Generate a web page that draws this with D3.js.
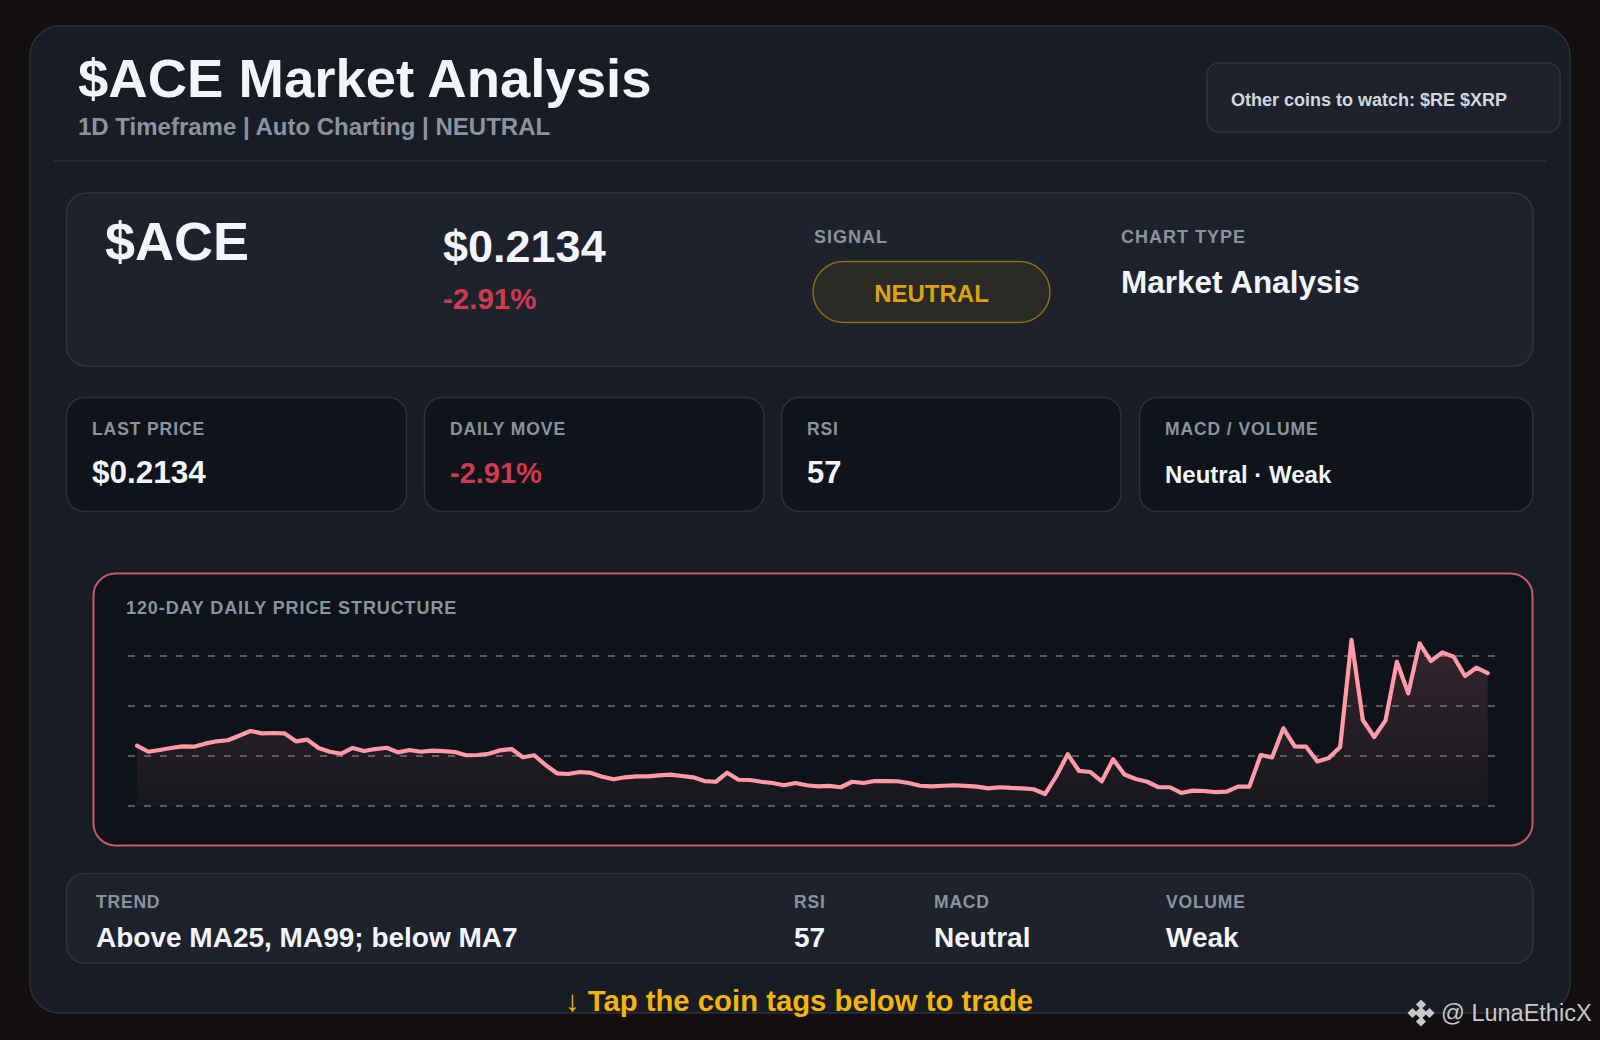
<!DOCTYPE html>
<html>
<head>
<meta charset="utf-8">
<title>$ACE Market Analysis</title>
<style>
html, body { margin: 0; padding: 0; background: #130e0f; }
svg { display: block; }
text { font-family: "Liberation Sans", Arial, Helvetica, sans-serif; }
</style>
</head>
<body>
<svg id="chart" width="1600" height="1040"></svg>

<script src="https://cdn.jsdelivr.net/npm/d3@7/dist/d3.min.js"></script>
<script>
// 120 daily closes
var prices = [
  0.1515, 0.1463, 0.1478, 0.1495, 0.1509, 0.1506, 0.1532, 0.1552, 0.1561, 0.1600,
  0.1640, 0.1620, 0.1623, 0.1620, 0.1552, 0.1566, 0.1495, 0.1463, 0.1446, 0.1495,
  0.1469, 0.1486, 0.1497, 0.1458, 0.1478, 0.1463, 0.1472, 0.1469, 0.1461, 0.1433,
  0.1435, 0.1446, 0.1475, 0.1486, 0.1416, 0.1433, 0.1350, 0.1279, 0.1273, 0.1290,
  0.1282, 0.1250, 0.1228, 0.1245, 0.1253, 0.1253, 0.1262, 0.1267, 0.1256, 0.1245,
  0.1213, 0.1207, 0.1284, 0.1224, 0.1222, 0.1207, 0.1196, 0.1177, 0.1196, 0.1177,
  0.1168, 0.1171, 0.1160, 0.1207, 0.1196, 0.1213, 0.1213, 0.1211, 0.1196, 0.1173,
  0.1168, 0.1173, 0.1177, 0.1171, 0.1165, 0.1151, 0.1160, 0.1154, 0.1151, 0.1143,
  0.1102, 0.1256, 0.1441, 0.1299, 0.1290, 0.1211, 0.1399, 0.1269, 0.1230, 0.1207,
  0.1160, 0.1160, 0.1111, 0.1131, 0.1128, 0.1119, 0.1122, 0.1165, 0.1165, 0.1435,
  0.1414, 0.1663, 0.1509, 0.1506, 0.1380, 0.1410, 0.1503, 0.2417, 0.1734, 0.1589,
  0.1731, 0.2231, 0.1962, 0.2388, 0.2237, 0.2310, 0.2274, 0.2109, 0.2180, 0.2134
];
var priceFloor = 0.100;
var priceCeil = 0.228;
var gridCount = 4;

var coin = "$ACE";
var lastPrice = "$0.2134";
var dailyMove = "-2.91%";
var signal = "NEUTRAL";
var chartType = "Market Analysis";
var watchList = ["$RE", "$XRP"];

var metricLabels = ["LAST PRICE", "DAILY MOVE", "RSI", "MACD / VOLUME"];
var metricValues = ["$0.2134", "-2.91%", "57", "Neutral \u00b7 Weak"];

var summaryLabels = ["TREND", "RSI", "MACD", "VOLUME"];
var summaryValues = ["Above MA25, MA99; below MA7", "57", "Neutral", "Weak"];

var WHITE = "#f3f5f8", GREY = "#8c93a0", RED = "#cf3a50", GOLD = "#d9a40f";
var svg = d3.select("#chart");

var defs = svg.append("defs");
var grad = defs.append("linearGradient")
    .attr("id", "areaFill")
    .attr("gradientUnits", "userSpaceOnUse")
    .attr("x1", 0).attr("x2", 0).attr("y1", 640).attr("y2", 806);
grad.append("stop").attr("offset", "0%").attr("stop-color", "#ff8d9c").attr("stop-opacity", 0.16);
grad.append("stop").attr("offset", "100%").attr("stop-color", "#ff8d9c").attr("stop-opacity", 0.04);

// page background
svg.append("rect").attr("width", 1600).attr("height", 1040).attr("fill", "#130e0f");

// outer card
svg.append("rect")
    .attr("x", 30).attr("y", 26).attr("width", 1540).attr("height", 987)
    .attr("rx", 30)
    .attr("fill", "#181c24").attr("stroke", "#2a303b").attr("stroke-width", 1.5);

// header
svg.append("text").attr("x", 78).attr("y", 97)
    .attr("font-size", 54.5).attr("font-weight", 700).attr("fill", WHITE)
    .text(coin + " Market Analysis");
svg.append("text").attr("x", 78).attr("y", 135)
    .attr("font-size", 24).attr("font-weight", 700).attr("fill", GREY)
    .text("1D Timeframe | Auto Charting | " + signal);

svg.append("rect")
    .attr("x", 1207).attr("y", 63).attr("width", 353).attr("height", 69).attr("rx", 12)
    .attr("fill", "#1d222c").attr("stroke", "#2d3440").attr("stroke-width", 1.5);
svg.append("text").attr("x", 1231).attr("y", 106)
    .attr("font-size", 18).attr("font-weight", 700).attr("fill", "#d3d7dd")
    .text("Other coins to watch: " + watchList.join(" "));

svg.append("line")
    .attr("x1", 54).attr("x2", 1546).attr("y1", 161).attr("y2", 161)
    .attr("stroke", "#2a303b").attr("stroke-width", 1.5);

// hero card
svg.append("rect")
    .attr("x", 66.5).attr("y", 193).attr("width", 1466.5).attr("height", 173).attr("rx", 20)
    .attr("fill", "#1d222c").attr("stroke", "#2d3440").attr("stroke-width", 1.5);
svg.append("text").attr("x", 105).attr("y", 260)
    .attr("font-size", 54).attr("font-weight", 700).attr("fill", WHITE).text(coin);
svg.append("text").attr("x", 443).attr("y", 262)
    .attr("font-size", 45).attr("font-weight", 700).attr("fill", WHITE).text(lastPrice);
svg.append("text").attr("x", 443).attr("y", 309)
    .attr("font-size", 29.5).attr("font-weight", 700).attr("fill", RED).text(dailyMove);

svg.append("text").attr("x", 814).attr("y", 243)
    .attr("font-size", 18).attr("font-weight", 700).attr("letter-spacing", 1)
    .attr("fill", GREY).text("SIGNAL");
svg.append("rect")
    .attr("x", 813).attr("y", 261.5).attr("width", 237).attr("height", 61).attr("rx", 30.5)
    .attr("fill", "#2b2a26").attr("stroke", "#8f7012").attr("stroke-width", 1.5);
svg.append("text").attr("x", 931.5).attr("y", 301.5).attr("text-anchor", "middle")
    .attr("font-size", 24).attr("font-weight", 700).attr("fill", GOLD).text(signal);

svg.append("text").attr("x", 1121).attr("y", 243)
    .attr("font-size", 18).attr("font-weight", 700).attr("letter-spacing", 1)
    .attr("fill", GREY).text("CHART TYPE");
svg.append("text").attr("x", 1121).attr("y", 293)
    .attr("font-size", 31.5).attr("font-weight", 700).attr("fill", WHITE).text(chartType);

// metric cards
var cardX = [66.5, 424.5, 781.5, 1139.5];
var cardW = [340, 339.5, 339.5, 393.5];
var valueSize = [31.5, 29, 31, 24];
var metric = svg.append("g").selectAll("g")
    .data(metricLabels)
    .enter().append("g")
    .attr("transform", function(d, i) { return "translate(" + cardX[i] + ",397.5)"; });

metric.append("rect")
    .attr("width", function(d, i) { return cardW[i]; })
    .attr("height", 114).attr("rx", 18)
    .attr("fill", "#0f131a").attr("stroke", "#2b313c").attr("stroke-width", 1.5);
metric.append("text")
    .attr("x", 25.5).attr("y", 37)
    .attr("font-size", 17.5).attr("font-weight", 700).attr("letter-spacing", 0.9)
    .attr("fill", GREY).text(function(d) { return d; });
metric.append("text")
    .attr("x", 25.5).attr("y", 85)
    .attr("font-size", function(d, i) { return valueSize[i]; })
    .attr("font-weight", 700)
    .attr("fill", function(d, i) { return i == 1 ? RED : WHITE; })
    .text(function(d, i) { return metricValues[i]; });

// price structure panel
svg.append("rect")
    .attr("x", 93.5).attr("y", 573.5).attr("width", 1439).attr("height", 272).attr("rx", 22)
    .attr("fill", "#0e1219").attr("stroke", "#c45a6b").attr("stroke-width", 2);
svg.append("text").attr("x", 126).attr("y", 613.5)
    .attr("font-size", 18).attr("font-weight", 700).attr("letter-spacing", 0.9)
    .attr("fill", GREY).text("120-DAY DAILY PRICE STRUCTURE");

var x = d3.scaleLinear().domain([0, prices.length - 1]).range([137, 1487.7]);
var y = d3.scaleLinear().domain([priceFloor, priceCeil]).range([806, 656]);

var gridLevels = d3.range(gridCount).map(function(i) {
  return priceFloor + i * (priceCeil - priceFloor) / (gridCount - 1);
});

svg.append("g").selectAll("line")
    .data(gridLevels)
    .enter().append("line")
    .attr("x1", 128).attr("x2", 1496)
    .attr("y1", function(d) { return y(d); })
    .attr("y2", function(d) { return y(d); })
    .attr("stroke", "#6a7079").attr("stroke-width", 1.4)
    .attr("stroke-dasharray", "7 9");

var area = d3.area()
    .x(function(d, i) { return x(i); })
    .y0(y(priceFloor))
    .y1(function(d) { return y(d); });

var line = d3.line()
    .x(function(d, i) { return x(i); })
    .y(function(d) { return y(d); });

svg.append("path").datum(prices)
    .attr("d", area)
    .attr("fill", "url(#areaFill)");

svg.append("path").datum(prices)
    .attr("d", line)
    .attr("fill", "none")
    .attr("stroke", "#ff9aa6").attr("stroke-width", 4.2)
    .attr("stroke-linejoin", "round").attr("stroke-linecap", "round");

// summary strip
svg.append("rect")
    .attr("x", 66.5).attr("y", 873.5).attr("width", 1466.5).attr("height", 89.5).attr("rx", 18)
    .attr("fill", "#1d222c").attr("stroke", "#2d3440").attr("stroke-width", 1.5);

var summaryX = [96, 794, 934, 1166];
var summary = svg.append("g").selectAll("g")
    .data(summaryLabels)
    .enter().append("g")
    .attr("transform", function(d, i) { return "translate(" + summaryX[i] + ",0)"; });
summary.append("text")
    .attr("y", 908)
    .attr("font-size", 17.5).attr("font-weight", 700).attr("letter-spacing", 0.8)
    .attr("fill", GREY).text(function(d) { return d; });
summary.append("text")
    .attr("y", 947)
    .attr("font-size", 28).attr("font-weight", 700)
    .attr("fill", WHITE).text(function(d, i) { return summaryValues[i]; });

// footer
svg.append("text").attr("x", 799).attr("y", 1010.5).attr("text-anchor", "middle")
    .attr("font-size", 29.3).attr("font-weight", 700).attr("fill", "#f3b50c")
    .text("\u2193 Tap the coin tags below to trade");

// watermark
var mark = svg.append("g").attr("transform", "translate(1421,1013)").attr("fill", "#c9c9c9");
[[0, -8.5], [-8.5, 0], [8.5, 0], [0, 8.5], [0, 0]].forEach(function(p, i) {
  var s = i == 4 ? 4.5 : 3.6;
  mark.append("rect")
      .attr("x", -s).attr("y", -s).attr("width", 2 * s).attr("height", 2 * s)
      .attr("transform", "translate(" + p[0] + "," + p[1] + ") rotate(45)");
});
svg.append("text").attr("x", 1441).attr("y", 1021)
    .attr("font-size", 23.5).attr("fill", "#c9c9c9")
    .text("@ LunaEthicX");
</script>
</body>
</html>
